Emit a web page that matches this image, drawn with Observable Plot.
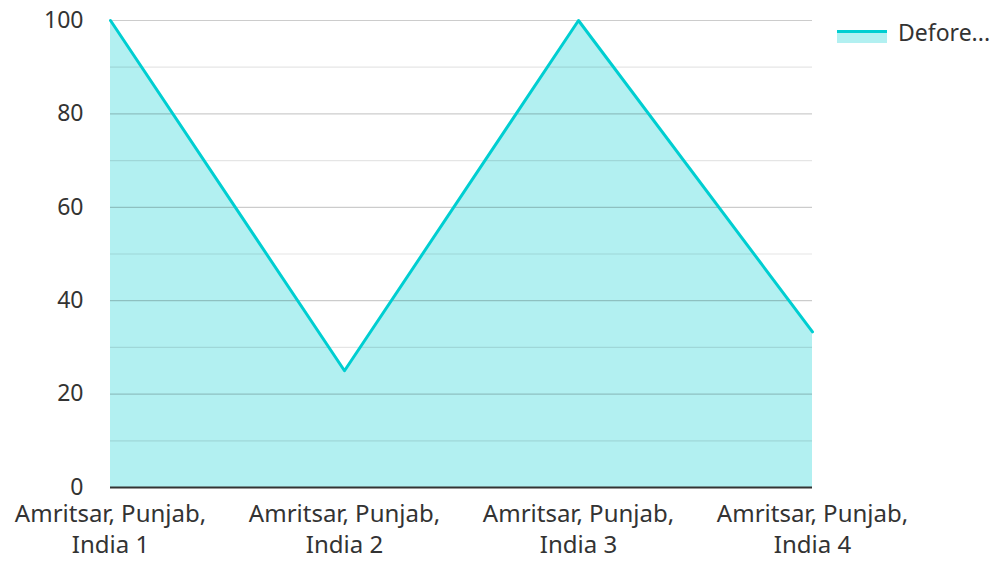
<!DOCTYPE html>
<html>
<head>
<meta charset="utf-8">
<script src="https://cdn.jsdelivr.net/npm/d3@7"></script>
<script src="https://cdn.jsdelivr.net/npm/@observablehq/plot@0.6"></script>
<style>
  html, body { margin: 0; padding: 0; background: #fff; }
  #wrap { position: relative; width: 998px; height: 561px; font-family: "Noto Sans", sans-serif; }
  #legend { position: absolute; left: 837px; top: 19px; display: flex; align-items: center; font-size: 23px; color: #333; line-height: 1.2; }
  #legend .sw { width: 50px; height: 14px; position: relative; margin-right: 11px; top: 3px; }
  #legend .sw .a { position: absolute; left: 0; top: 2px; width: 50px; height: 12px; background: rgba(0,206,209,0.3); }
  #legend .sw .l { position: absolute; left: 0; top: 1px; width: 50px; height: 3px; background: #00CED1; }
</style>
</head>
<body>
<div id="wrap"><div id="chart"></div><div id="legend"><div class="sw"><div class="a"></div><div class="l"></div></div><span>Defore...</span></div></div>
<script>
const categories = ["Amritsar, Punjab,\nIndia 1", "Amritsar, Punjab,\nIndia 2", "Amritsar, Punjab,\nIndia 3", "Amritsar, Punjab,\nIndia 4"];
const values = [100, 25, 100, 33.33];
const yTicks = [0, 20, 40, 60, 80, 100];
const yMinor = [10, 30, 50, 70, 90];
const seriesName = "Defore...";

const data = categories.map((c, i) => ({ cat: c, v: values[i] }));
const color = "#00CED1";

const chart = Plot.plot({
  width: 998,
  height: 561,
  marginLeft: 110,
  marginRight: 186,
  marginTop: 20,
  marginBottom: 74,
  style: { fontFamily: "Noto Sans, sans-serif", fontSize: "24px", color: "#333", background: "#fff" },
  x: { type: "point", domain: categories, padding: 0, label: null },
  y: { domain: [0, 100], label: null },
  marks: [
    Plot.areaY(data, { x: "cat", y: "v", fill: color, fillOpacity: 0.3 }),
    Plot.ruleY(yMinor, { stroke: "#000", strokeOpacity: 0.1, strokeWidth: 1.2 }),
    Plot.ruleY(yTicks.filter(d => d > 0), { stroke: "#000", strokeOpacity: 0.2, strokeWidth: 1.2 }),
    Plot.lineY(data, { x: "cat", y: "v", stroke: color, strokeWidth: 3 }),
    Plot.ruleY([0], { stroke: "#333", strokeWidth: 2 }),
    Plot.axisY({ ticks: yTicks, tickSize: 0, tickPadding: 27, fontSize: 23, fill: "#333" }),
    Plot.axisX({ tickSize: 0, tickPadding: 12, fontSize: 24, fill: "#333", lineHeight: 1.3, lineWidth: 100 })
  ]
});
document.getElementById("chart").appendChild(chart);
</script>
</body>
</html>
